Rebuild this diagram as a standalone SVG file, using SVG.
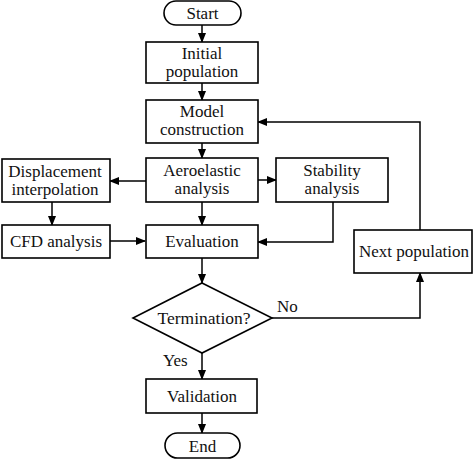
<svg xmlns="http://www.w3.org/2000/svg" width="474" height="474" viewBox="0 0 474 474">
<style>
.box{fill:#fff;stroke:#000;stroke-width:1.6}
.cn{fill:none;stroke:#000;stroke-width:1.5}
</style>
<defs>
<marker id="a" markerUnits="userSpaceOnUse" markerWidth="10" markerHeight="8" refX="9" refY="4" orient="auto">
<path d="M0,0 L10,4 L0,8 Z" fill="#000"/>
</marker>
</defs>
<rect width="474" height="474" fill="#fff"/>
<g id="connectors" class="cn">
<line x1="202" y1="25" x2="202" y2="42" marker-end="url(#a)"/>
<line x1="202" y1="83" x2="202" y2="100" marker-end="url(#a)"/>
<line x1="202" y1="143" x2="202" y2="158" marker-end="url(#a)"/>
<line x1="146" y1="181" x2="110" y2="181" marker-end="url(#a)"/>
<line x1="258" y1="180" x2="276" y2="180" marker-end="url(#a)"/>
<line x1="52" y1="202" x2="52" y2="225" marker-end="url(#a)"/>
<line x1="110" y1="241" x2="145" y2="241" marker-end="url(#a)"/>
<line x1="202" y1="202" x2="202" y2="225" marker-end="url(#a)"/>
<polyline points="333,202 333,242 258,242" marker-end="url(#a)"/>
<line x1="202" y1="258" x2="202" y2="283" marker-end="url(#a)"/>
<line x1="202" y1="353" x2="202" y2="379" marker-end="url(#a)"/>
<line x1="202" y1="413" x2="202" y2="433" marker-end="url(#a)"/>
<polyline points="272,318 420,318 420,273" marker-end="url(#a)"/>
<polyline points="420,230 420,122 258,122" marker-end="url(#a)"/>
</g>
<g id="labels">
<text x="277" y="312" font-family="Liberation Serif" font-size="17" fill="#111">No</text>
<text x="163" y="366" font-family="Liberation Serif" font-size="17" fill="#111">Yes</text>
</g>
<g id="start">
<rect class="box" x="164" y="1" width="77" height="24" rx="12"/>
<text x="202.5" y="19" font-family="Liberation Serif" font-size="17" fill="#111" text-anchor="middle">Start</text>
</g>
<g id="initial">
<rect class="box" x="146" y="42" width="112" height="41"/>
<text x="202" y="58.5" font-family="Liberation Serif" font-size="17" fill="#111" text-anchor="middle">Initial</text>
<text x="202" y="77" font-family="Liberation Serif" font-size="17" fill="#111" text-anchor="middle">population</text>
</g>
<g id="model">
<rect class="box" x="146" y="100" width="112" height="43"/>
<text x="202" y="116.5" font-family="Liberation Serif" font-size="17" fill="#111" text-anchor="middle">Model</text>
<text x="202" y="135" font-family="Liberation Serif" font-size="17" fill="#111" text-anchor="middle">construction</text>
</g>
<g id="aeroelastic">
<rect class="box" x="146" y="158" width="112" height="44"/>
<text x="202" y="175.5" font-family="Liberation Serif" font-size="17" fill="#111" text-anchor="middle">Aeroelastic</text>
<text x="202" y="194" font-family="Liberation Serif" font-size="17" fill="#111" text-anchor="middle">analysis</text>
</g>
<g id="displacement">
<rect class="box" x="2" y="159" width="108" height="43"/>
<text x="55" y="176.5" font-family="Liberation Serif" font-size="17" fill="#111" text-anchor="middle">Displacement</text>
<text x="55" y="195" font-family="Liberation Serif" font-size="17" fill="#111" text-anchor="middle">interpolation</text>
</g>
<g id="stability">
<rect class="box" x="276" y="158" width="112" height="44"/>
<text x="332" y="175.5" font-family="Liberation Serif" font-size="17" fill="#111" text-anchor="middle">Stability</text>
<text x="332" y="194" font-family="Liberation Serif" font-size="17" fill="#111" text-anchor="middle">analysis</text>
</g>
<g id="cfd">
<rect class="box" x="2" y="225" width="108" height="33"/>
<text x="56" y="247" font-family="Liberation Serif" font-size="17" fill="#111" text-anchor="middle">CFD analysis</text>
</g>
<g id="evaluation">
<rect class="box" x="146" y="225" width="112" height="33"/>
<text x="202" y="247" font-family="Liberation Serif" font-size="17" fill="#111" text-anchor="middle">Evaluation</text>
</g>
<g id="next">
<rect class="box" x="354" y="230" width="118" height="43"/>
<text x="414" y="257" font-family="Liberation Serif" font-size="17" fill="#111" text-anchor="middle">Next population</text>
</g>
<g id="termination">
<polygon class="box" points="202,283 272,318 202,353 133,318"/>
<text x="204" y="324" font-family="Liberation Serif" font-size="17.5" fill="#111" text-anchor="middle">Termination?</text>
</g>
<g id="validation">
<rect class="box" x="146" y="379" width="111" height="34"/>
<text x="202" y="402" font-family="Liberation Serif" font-size="17" fill="#111" text-anchor="middle">Validation</text>
</g>
<g id="end">
<rect class="box" x="165" y="433" width="75" height="25" rx="12.5"/>
<text x="202.5" y="452" font-family="Liberation Serif" font-size="17" fill="#111" text-anchor="middle">End</text>
</g>
</svg>
